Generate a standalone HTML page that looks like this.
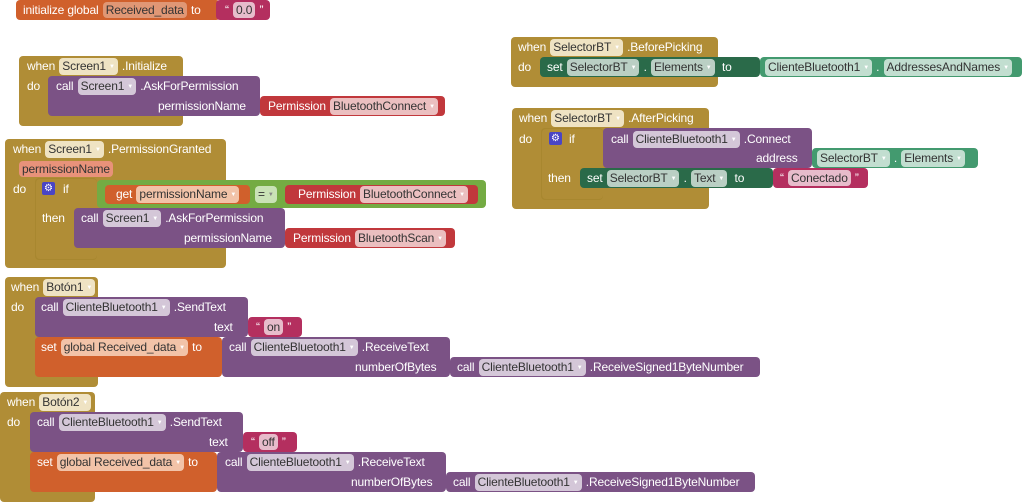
<!DOCTYPE html>
<html><head><meta charset="utf-8"><style>
body{margin:0;width:1024px;height:502px;background:#fff;position:relative;overflow:hidden;font-family:"Liberation Sans",sans-serif}
.b{position:absolute;border-radius:4px}
.t{position:absolute;color:#fff;font-size:12px;line-height:16px;white-space:nowrap;letter-spacing:-0.15px}
.c{display:inline-block;background:rgba(255,255,255,.68);color:#333;border-radius:4px;padding:1px 3px;line-height:14px;margin:0 1px}
.c i{font-style:normal;font-size:6px;color:#fff;margin-left:3px;vertical-align:2px}
.g{background:#b08d36}.p{background:#7b5285}.o{background:#d0602c}.r{background:#c1383c}.dg{background:#2a6a49}.gr{background:#439a6f}.m{background:#b42f5f}.lg{background:#74ab43}
</style></head><body>
<div class="b o" style="left:16px;top:0;width:204px;height:20px"></div>
<div class="b m" style="left:216px;top:0;width:54px;height:20px"></div>
<div class="t" style="left:23px;top:2px">initialize global <span class="c" style="background:rgba(255,255,255,.35);color:#333">Received_data</span> to</div>
<div class="t" style="left:225px;top:2px">“ <span class="c">0.0</span> ”</div>

<div class="b g" style="left:19px;top:56px;width:164px;height:70px"></div>
<div class="b p" style="left:48px;top:76px;width:212px;height:40px"></div>
<div class="b r" style="left:260px;top:96px;width:185px;height:20px"></div>
<div class="t" style="left:27px;top:58px">when <span class="c" style="background:#efe3c3">Screen1<i>▼</i></span> .Initialize</div>
<div class="t" style="left:27px;top:78px">do</div>
<div class="t" style="left:56px;top:78px">call <span class="c">Screen1<i>▼</i></span> .AskForPermission</div>
<div class="t" style="left:158px;top:98px">permissionName</div>
<div class="t" style="left:268px;top:98px">Permission <span class="c">BluetoothConnect<i>▼</i></span></div>

<div class="b g" style="left:5px;top:139px;width:221px;height:129px"></div>
<div class="b" style="left:35px;top:178px;width:62px;height:82px;background:#a8872f"></div>
<div class="b g" style="left:36px;top:179px;width:61px;height:80px"></div>
<div class="b lg" style="left:97px;top:180px;width:389px;height:28px"></div>
<div class="b o" style="left:105px;top:185px;width:145px;height:19px"></div>
<div class="b r" style="left:285px;top:185px;width:193px;height:19px"></div>
<div class="b p" style="left:74px;top:208px;width:211px;height:40px"></div>
<div class="b r" style="left:285px;top:228px;width:170px;height:20px"></div>
<div class="t" style="left:13px;top:141px">when <span class="c" style="background:#efe3c3">Screen1<i>▼</i></span> .PermissionGranted</div>
<div class="t" style="left:18px;top:161px"><span class="c" style="background:#e8927a">permissionName</span></div>
<div class="t" style="left:13px;top:181px">do</div>
<div class="b" style="left:42px;top:182px;width:13px;height:13px;background:#4a45c4;border-radius:2px;color:#fff;font-size:10px;text-align:center;line-height:13px">⚙</div>
<div class="t" style="left:63px;top:181px">if</div>
<div class="t" style="left:116px;top:186px">get <span class="c" style="background:#f2c3a8">permissionName<i>▼</i></span></div>
<div class="t" style="left:254px;top:186px"><span class="c" style="background:#c9e2b6">=<i style="color:#888">▼</i></span></div>
<div class="t" style="left:298px;top:186px">Permission <span class="c">BluetoothConnect<i>▼</i></span></div>
<div class="t" style="left:42px;top:210px">then</div>
<div class="t" style="left:81px;top:210px">call <span class="c">Screen1<i>▼</i></span> .AskForPermission</div>
<div class="t" style="left:184px;top:230px">permissionName</div>
<div class="t" style="left:293px;top:230px">Permission <span class="c">BluetoothScan<i>▼</i></span></div>

<div class="b g" style="left:5px;top:277px;width:93px;height:110px"></div>
<div class="b p" style="left:35px;top:297px;width:213px;height:40px"></div>
<div class="b m" style="left:248px;top:317px;width:54px;height:20px"></div>
<div class="b o" style="left:35px;top:337px;width:187px;height:40px"></div>
<div class="b p" style="left:222px;top:337px;width:228px;height:40px"></div>
<div class="b p" style="left:450px;top:357px;width:310px;height:20px"></div>
<div class="t" style="left:11px;top:279px">when <span class="c" style="background:#efe3c3">Botón1<i>▼</i></span> .Click</div>
<div class="t" style="left:11px;top:299px">do</div>
<div class="t" style="left:41px;top:299px">call <span class="c">ClienteBluetooth1<i>▼</i></span> .SendText</div>
<div class="t" style="left:214px;top:319px">text</div>
<div class="t" style="left:256px;top:319px">“ <span class="c">on</span> ”</div>
<div class="t" style="left:41px;top:339px">set <span class="c" style="background:#f2c3a8">global Received_data<i>▼</i></span> to</div>
<div class="t" style="left:229px;top:339px">call <span class="c">ClienteBluetooth1<i>▼</i></span> .ReceiveText</div>
<div class="t" style="left:355px;top:359px">numberOfBytes</div>
<div class="t" style="left:457px;top:359px">call <span class="c">ClienteBluetooth1<i>▼</i></span> .ReceiveSigned1ByteNumber</div>

<div class="b g" style="left:0px;top:392px;width:95px;height:110px"></div>
<div class="b p" style="left:30px;top:412px;width:213px;height:40px"></div>
<div class="b m" style="left:243px;top:432px;width:54px;height:20px"></div>
<div class="b o" style="left:30px;top:452px;width:187px;height:40px"></div>
<div class="b p" style="left:217px;top:452px;width:229px;height:40px"></div>
<div class="b p" style="left:446px;top:472px;width:309px;height:20px"></div>
<div class="t" style="left:7px;top:394px">when <span class="c" style="background:#efe3c3">Botón2<i>▼</i></span> .Click</div>
<div class="t" style="left:7px;top:414px">do</div>
<div class="t" style="left:37px;top:414px">call <span class="c">ClienteBluetooth1<i>▼</i></span> .SendText</div>
<div class="t" style="left:209px;top:434px">text</div>
<div class="t" style="left:251px;top:434px">“ <span class="c">off</span> ”</div>
<div class="t" style="left:37px;top:454px">set <span class="c" style="background:#f2c3a8">global Received_data<i>▼</i></span> to</div>
<div class="t" style="left:225px;top:454px">call <span class="c">ClienteBluetooth1<i>▼</i></span> .ReceiveText</div>
<div class="t" style="left:351px;top:474px">numberOfBytes</div>
<div class="t" style="left:453px;top:474px">call <span class="c">ClienteBluetooth1<i>▼</i></span> .ReceiveSigned1ByteNumber</div>

<div class="b g" style="left:511px;top:37px;width:207px;height:50px"></div>
<div class="b dg" style="left:540px;top:57px;width:220px;height:20px"></div>
<div class="b gr" style="left:760px;top:57px;width:262px;height:20px"></div>
<div class="t" style="left:518px;top:39px">when <span class="c" style="background:#efe3c3">SelectorBT<i>▼</i></span> .BeforePicking</div>
<div class="t" style="left:518px;top:59px">do</div>
<div class="t" style="left:547px;top:59px">set <span class="c">SelectorBT<i>▼</i></span> . <span class="c">Elements<i>▼</i></span> &nbsp;to</div>
<div class="t" style="left:764px;top:59px"><span class="c">ClienteBluetooth1<i>▼</i></span> . <span class="c">AddressesAndNames<i>▼</i></span></div>

<div class="b g" style="left:512px;top:108px;width:197px;height:101px"></div>
<div class="b" style="left:541px;top:128px;width:62px;height:72px;background:#a8872f"></div>
<div class="b g" style="left:542px;top:129px;width:61px;height:70px"></div>
<div class="b p" style="left:603px;top:128px;width:209px;height:40px"></div>
<div class="b gr" style="left:812px;top:148px;width:166px;height:20px"></div>
<div class="b dg" style="left:580px;top:168px;width:193px;height:20px"></div>
<div class="b m" style="left:773px;top:168px;width:95px;height:20px"></div>
<div class="t" style="left:519px;top:110px">when <span class="c" style="background:#efe3c3">SelectorBT<i>▼</i></span> .AfterPicking</div>
<div class="t" style="left:519px;top:131px">do</div>
<div class="b" style="left:549px;top:132px;width:13px;height:13px;background:#4a45c4;border-radius:2px;color:#fff;font-size:10px;text-align:center;line-height:13px">⚙</div>
<div class="t" style="left:569px;top:131px">if</div>
<div class="t" style="left:611px;top:131px">call <span class="c">ClienteBluetooth1<i>▼</i></span> .Connect</div>
<div class="t" style="left:756px;top:150px">address</div>
<div class="t" style="left:816px;top:150px"><span class="c">SelectorBT<i>▼</i></span> . <span class="c">Elements<i>▼</i></span></div>
<div class="t" style="left:548px;top:170px">then</div>
<div class="t" style="left:587px;top:170px">set <span class="c">SelectorBT<i>▼</i></span> . <span class="c">Text<i>▼</i></span> &nbsp;to</div>
<div class="t" style="left:780px;top:170px">“ <span class="c">Conectado</span> ”</div>
</body></html>
